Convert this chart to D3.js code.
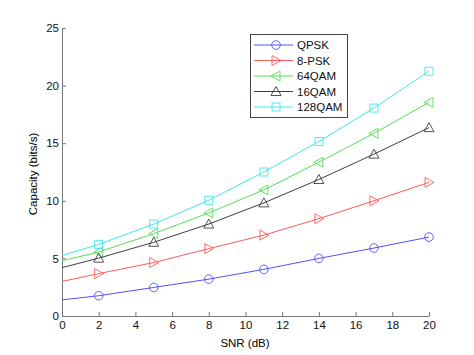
<!DOCTYPE html>
<html lang="en">
<meta charset="utf-8">
<head>
    <style>
        body { margin: 0; background: #fff; font: 11px "Liberation Sans", Arial, sans-serif; }
    </style>
    <script src="https://d3js.org/d3.v7.min.js"></script>
</head>
<body>
</body>
<script>
    // data
    var snr = [0, 2, 5, 8, 11, 14, 17, 20];
    var qpsk = [1.4, 1.76, 2.48, 3.2, 4.05, 5.0, 5.9, 6.85];
    var psk8 = [3.0, 3.68, 4.64, 5.85, 7.02, 8.45, 10.0, 11.6];
    var qam64 = [4.8, 5.55, 7.15, 8.95, 10.95, 13.35, 15.85, 18.55];
    var qam16 = [4.2, 5.02, 6.4, 7.98, 9.82, 11.85, 14.05, 16.35];
    var qam128 = [5.25, 6.22, 7.98, 10.05, 12.5, 15.15, 18.05, 21.25];
    var xTicks = [0, 2, 4, 6, 8, 10, 12, 14, 16, 18, 20];
    var yTicks = [0, 5, 10, 15, 20, 25];

    var series = [
        { name: "QPSK", values: qpsk, color: "#5050ff", marker: "circle" },
        { name: "8-PSK", values: psk8, color: "#ff5a5a", marker: "right" },
        { name: "64QAM", values: qam64, color: "#55dd55", marker: "left" },
        { name: "16QAM", values: qam16, color: "#404040", marker: "up" },
        { name: "128QAM", values: qam128, color: "#3ee8ee", marker: "square" }
    ];

    var width = 474, height = 355;
    var svg = d3.select("body").append("svg")
        .attr("width", width)
        .attr("height", height);

    var x = d3.scaleLinear().domain([0, 20]).range([62, 429]);
    var y = d3.scaleLinear().domain([0, 25]).range([316, 28]);

    // axes, ticks pointing inward like matlab
    svg.append("g")
        .attr("transform", "translate(0,316)")
        .call(d3.axisBottom(x).tickValues(xTicks).tickSizeInner(-4).tickSizeOuter(0).tickPadding(5));
    svg.append("g")
        .attr("transform", "translate(62,0)")
        .call(d3.axisLeft(y).tickValues(yTicks).tickSizeInner(-4).tickSizeOuter(0).tickPadding(3));
    svg.selectAll(".domain, .tick line").attr("stroke", "#777");
    svg.selectAll(".tick text")
        .attr("fill", "#111")
        .style("font-family", "'Liberation Sans', Arial, sans-serif")
        .style("font-size", "11.5px");

    svg.append("text")
        .attr("x", 245).attr("y", 347)
        .attr("text-anchor", "middle")
        .style("font-size", "11.5px")
        .text("SNR (dB)");
    svg.append("text")
        .attr("transform", "translate(37,174) rotate(-90)")
        .attr("text-anchor", "middle")
        .style("font-size", "11.5px")
        .text("Capacity (bits/s)");

    function drawMarker(g, type, cx, cy, color) {
        if (type === "circle") {
            g.append("circle").attr("cx", cx).attr("cy", cy).attr("r", 4.3)
                .attr("fill", "none").attr("stroke", color).attr("stroke-width", 0.9);
        } else if (type === "square") {
            g.append("rect").attr("x", cx - 4).attr("y", cy - 4).attr("width", 8).attr("height", 8)
                .attr("fill", "none").attr("stroke", color).attr("stroke-width", 0.9);
        } else {
            var pts;
            if (type === "up") pts = [[cx, cy - 5], [cx - 5, cy + 4], [cx + 5, cy + 4]];
            if (type === "right") pts = [[cx + 5, cy], [cx - 4, cy - 5], [cx - 4, cy + 5]];
            if (type === "left") pts = [[cx - 5, cy], [cx + 4, cy - 5], [cx + 4, cy + 5]];
            g.append("path").attr("d", d3.line()(pts) + "Z")
                .attr("fill", "none").attr("stroke", color).attr("stroke-width", 0.9);
        }
    }

    var line = d3.line()
        .x(function (d) { return x(d[0]); })
        .y(function (d) { return y(d[1]); });

    series.forEach(function (s) {
        var pts = snr.map(function (v, i) { return [v, s.values[i]]; });
        var g = svg.append("g");
        g.append("path").attr("d", line(pts))
            .attr("fill", "none").attr("stroke", s.color).attr("stroke-width", 1);
        pts.slice(1).forEach(function (p) {
            drawMarker(g, s.marker, x(p[0]), y(p[1]), s.color);
        });
    });

    // legend
    var legend = svg.append("g");
    legend.append("rect")
        .attr("x", 250.5).attr("y", 34.5).attr("width", 97).attr("height", 83)
        .attr("fill", "#fff").attr("stroke", "#444");
    series.forEach(function (s, i) {
        var ly = 45 + i * 15.5;
        legend.append("line").attr("x1", 254).attr("x2", 293).attr("y1", ly).attr("y2", ly)
            .attr("stroke", s.color);
        drawMarker(legend, s.marker, 276, ly, s.color);
        legend.append("text").attr("x", 297).attr("y", ly + 4)
            .style("font-size", "11.5px").attr("fill", "#111")
            .text(s.name);
    });
</script>
</html>
